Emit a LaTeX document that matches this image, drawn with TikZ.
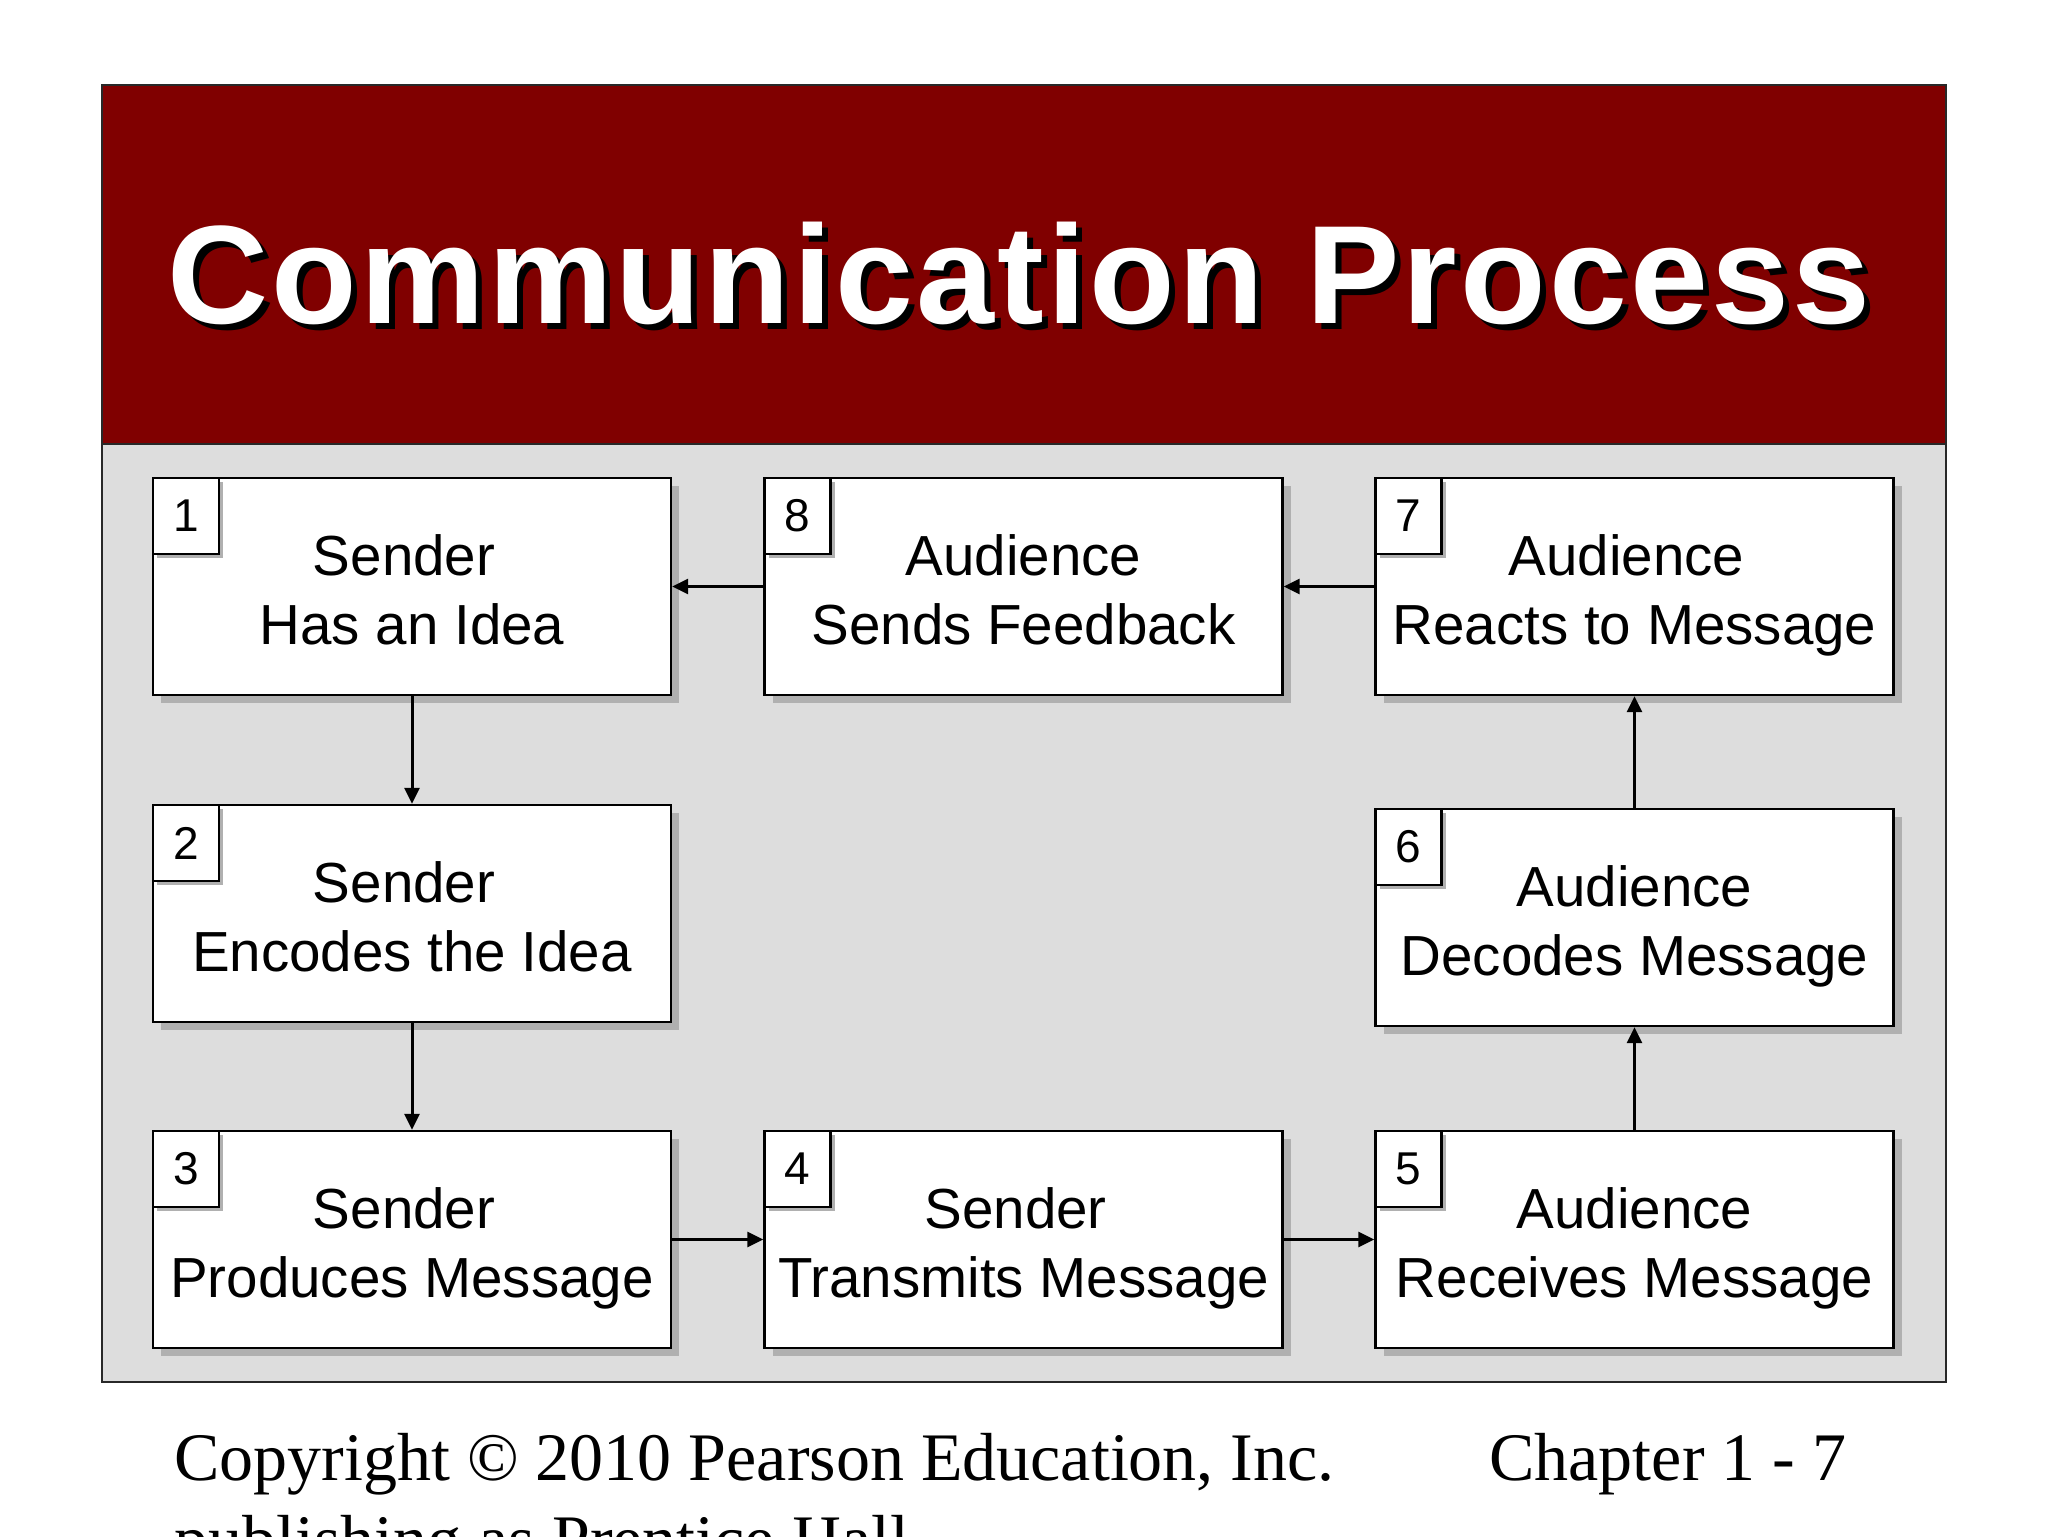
\documentclass[tikz,border=0pt]{standalone}
\usepackage{fontspec}
\setmainfont{Liberation Sans}
\newfontfamily\footfont{Liberation Serif}
\newfontfamily\titlefont[LetterSpace=2.3]{Liberation Sans}
\usetikzlibrary{shadows,arrows.meta}
\definecolor{hdred}{RGB}{128,0,0}
\definecolor{panelgray}{RGB}{221,221,221}
\definecolor{shadowgray}{RGB}{176,176,176}
\definecolor{framegray}{RGB}{40,40,40}
\tikzset{
  stepbox/.style={draw=black, line width=1.2pt, fill=white,
    minimum width=259pt, minimum height=108.5pt, inner sep=0pt,
    drop shadow={shadow xshift=4pt, shadow yshift=-4pt, fill=shadowgray, opacity=1}},
  numbox/.style={draw=black, line width=1.2pt, fill=white, anchor=north west,
    minimum width=33pt, minimum height=38pt, inner sep=0pt,
    font=\fontsize{23}{27}\selectfont,
    drop shadow={shadow xshift=2pt, shadow yshift=-2pt, fill=shadowgray, opacity=1}},
  steptext/.style={align=center, inner sep=0pt, font=\fontsize{28.25}{34.5}\selectfont},
  arr/.style={line width=1.5pt, -{Triangle[length=8pt,width=7.5pt]}},
  titletext/.style={font=\titlefont\bfseries\fontsize{70}{84}\selectfont, anchor=base, inner sep=0pt},
  foottext/.style={font=\footfont\fontsize{34}{41}\selectfont, anchor=base west, inner sep=0pt}
}
\begin{document}
\begin{tikzpicture}[x=0.5pt,y=-0.5pt]
\path[use as bounding box, clip] (0,0) rectangle (2048,1536);
\fill[white] (0,0) rectangle (2048,1536);
% frame
\path[fill=panelgray, draw=framegray, line width=1pt] (102,444) rectangle (1946,1382);
\path[fill=hdred, draw=framegray, line width=1pt] (102,85) rectangle (1946,444);
% title
\node[titletext, text=black] (titleshadow) at (1025,329) {Communication Process};
\node[titletext, text=white] (title) at (1019,323) {Communication Process};
% boxes
\node[stepbox] (b1) at (412,586.5) {};
\node[stepbox] (b8) at (1023.5,586.5) {};
\node[stepbox] (b7) at (1634.5,586.5) {};
\node[stepbox] (b2) at (412,913.5) {};
\node[stepbox] (b6) at (1634.5,917.5) {};
\node[stepbox] (b3) at (412,1239.5) {};
\node[stepbox] (b4) at (1023.5,1239.5) {};
\node[stepbox] (b5) at (1634.5,1239.5) {};
% numbers
\node[numbox] (n1) at (b1.north west) {1};
\node[numbox] (n2) at (b2.north west) {2};
\node[numbox] (n3) at (b3.north west) {3};
\node[numbox] (n4) at (b4.north west) {4};
\node[numbox] (n5) at (b5.north west) {5};
\node[numbox] (n6) at (b6.north west) {6};
\node[numbox] (n7) at (b7.north west) {7};
\node[numbox] (n8) at (b8.north west) {8};
% texts
\node[steptext] (t1) at ([yshift=-4.6pt]b1.center) {\strut Sender\kern.28em\\\strut Has an Idea};
\node[steptext] (t2) at ([yshift=-4.6pt]b2.center) {\strut Sender\kern.28em\\\strut Encodes the Idea};
\node[steptext] (t3) at ([yshift=-4.6pt]b3.center) {\strut Sender\kern.28em\\\strut Produces Message};
\node[steptext] (t4) at ([yshift=-4.6pt]b4.center) {\strut Sender\kern.28em\\\strut Transmits Message};
\node[steptext] (t5) at ([yshift=-4.6pt]b5.center) {\strut Audience\\\strut Receives Message};
\node[steptext] (t6) at ([yshift=-4.6pt]b6.center) {\strut Audience\\\strut Decodes Message};
\node[steptext] (t7) at ([yshift=-4.6pt]b7.center) {\strut Audience\kern.28em\\\strut Reacts to Message};
\node[steptext] (t8) at ([yshift=-4.6pt]b8.center) {\strut Audience\\\strut Sends Feedback};
% arrows
\draw[arr] (b1) -- (b2);
\draw[arr] (b2) -- (b3);
\draw[arr] (b3) -- (b4);
\draw[arr] (b4) -- (b5);
\draw[arr] (b5) -- (b6);
\draw[arr] (b6) -- (b7);
\draw[arr] (b7) -- (b8);
\draw[arr] (b8) -- (b1);
% footer
\node[foottext] (copy) at (174,1480) {Copyright \textcopyright{} 2010 Pearson Education, Inc.};
\node[foottext] (chap) at (1489,1480) {Chapter 1 - 7};
\node[foottext] (pub) at (174,1562) {publishing as Prentice Hall};
\end{tikzpicture}
\end{document}
